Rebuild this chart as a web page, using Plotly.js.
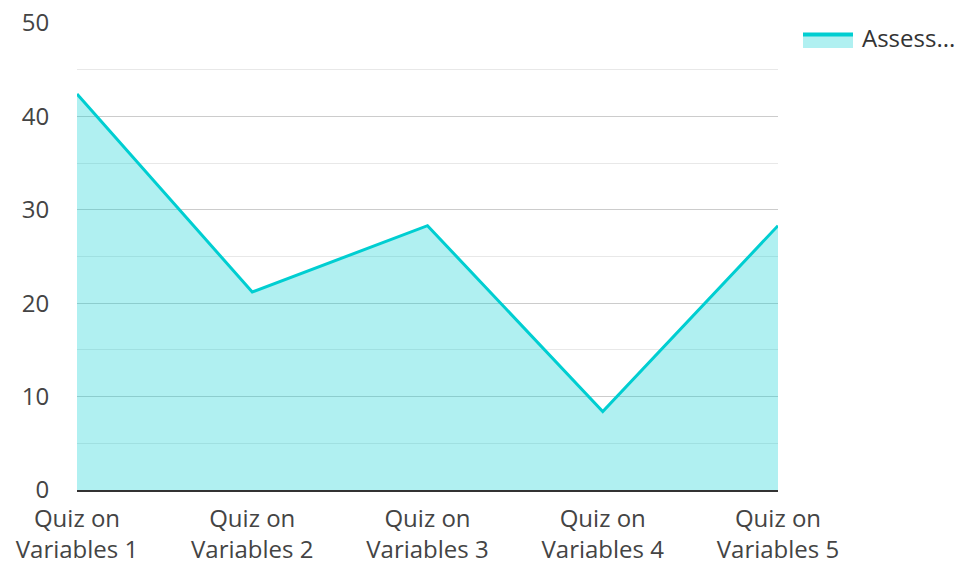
<!DOCTYPE html>
<html><head><meta charset="utf-8">
<script src="https://cdn.plot.ly/plotly-3.0.1.min.js"></script>
<style>html,body{margin:0;padding:0;background:#fff}#chart{width:962px;height:562px}</style>
</head><body><div id="chart"></div>
<script>
const categories = ["Quiz on<br>Variables 1","Quiz on<br>Variables 2","Quiz on<br>Variables 3","Quiz on<br>Variables 4","Quiz on<br>Variables 5"];
const seriesName = "Assess...";
const values = [42.4, 21.2, 28.3, 8.4, 28.3];
const yTicks = [0, 10, 20, 30, 40, 50];

const lineColor = '#00CED1';
const fillColor = 'rgba(0,206,209,0.31)';
const W = 962, H = 562, M = {l: 77, r: 184, t: 23, b: 72};
const pw = W - M.l - M.r, ph = H - M.t - M.b;
const px = x => (x - M.l) / pw;
const py = y => (H - M.b - y) / ph;

const trace = {
  x: categories, y: values, type: 'scatter', mode: 'lines', name: seriesName,
  fill: 'tozeroy', fillcolor: fillColor,
  line: {color: lineColor, width: 3}, showlegend: false
};
const layout = {
  width: W, height: H,
  margin: M,
  paper_bgcolor: '#fff', plot_bgcolor: '#fff',
  font: {family: 'Open Sans, Noto Sans, sans-serif', size: 24, color: '#444'},
  showlegend: false,
  xaxis: {
    type: 'category', range: [0, 4], showgrid: false, zeroline: false,
    showline: true, linecolor: '#333', linewidth: 2,
    ticks: 'outside', ticklen: 6, tickcolor: 'rgba(0,0,0,0)',
    tickfont: {size: 24, color: '#444'}
  },
  yaxis: {
    range: [0, 50], tickvals: yTicks, ticktext: yTicks.map(String),
    showgrid: true, gridcolor: '#ccc', gridwidth: 1,
    minor: {dtick: 5, showgrid: true, gridcolor: '#e8e8e8', gridwidth: 1},
    zeroline: false, showline: false,
    ticks: 'outside', ticklen: 22, tickcolor: 'rgba(0,0,0,0)',
    tickfont: {size: 24, color: '#444'}
  },
  shapes: [
    {type: 'rect', xref: 'paper', yref: 'paper', x0: px(803), x1: px(853), y0: py(48), y1: py(34),
     fillcolor: fillColor, line: {width: 0}},
    {type: 'line', xref: 'paper', yref: 'paper', x0: px(803), x1: px(853), y0: py(34.5), y1: py(34.5),
     line: {color: lineColor, width: 4}}
  ],
  annotations: [
    {xref: 'paper', yref: 'paper', x: px(860), y: py(37), xanchor: 'left', yanchor: 'middle',
     text: seriesName, showarrow: false, font: {size: 24, color: '#333'}}
  ]
};
Plotly.newPlot('chart', [trace], layout, {displayModeBar: false, staticPlot: true});
</script></body></html>
